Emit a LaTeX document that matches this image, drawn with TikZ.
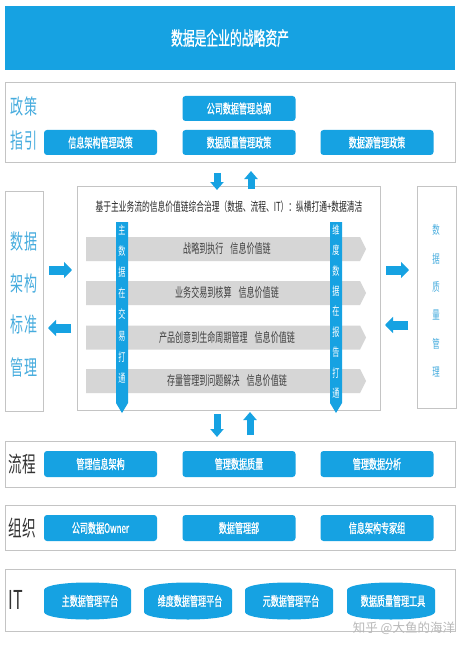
\documentclass[tikz,border=0pt]{standalone}
\usepackage{fontspec}
\setmainfont[FakeStretch=0.62]{Noto Sans CJK SC}
\newfontfamily\cjkn{Noto Sans CJK SC}
\newfontfamily\cjkheavy[FakeStretch=0.62,FakeBold=1]{Noto Sans CJK SC}
\usetikzlibrary{arrows.meta}
\definecolor{bblue}{RGB}{22,162,226}
\definecolor{lblue}{RGB}{70,172,222}
\definecolor{bandgray}{RGB}{214,214,214}
\definecolor{framegray}{RGB}{196,196,196}
\begin{document}
\begin{tikzpicture}[x=1pt,y=-1pt,
  frame/.style={draw=framegray, line width=1pt, fill=white, inner sep=0pt},
  bbox/.style={fill=bblue, rounded corners=3pt, text=white, minimum width=113pt, minimum height=25pt, inner sep=0pt, font=\cjkheavy\fontsize{13}{13}\selectfont},
  lbl/.style={text=lblue, font=\fontsize{21}{22}\selectfont, align=center, inner sep=0pt},
  dlbl/.style={text=black!80, font=\fontsize{22}{22}\selectfont, inner sep=0pt},
  barrow/.style={line width=7pt, draw=bblue, -{Triangle[width=13pt,length=8pt]}},
  harrow/.style={line width=9pt, draw=bblue, -{Triangle[width=16pt,length=8pt]}},
  bandtxt/.style={text=black!75, font=\fontsize{13}{13}\selectfont, inner sep=0pt},
  vtxt/.style={text=white, align=center, inner sep=0pt},
  ittxt/.style={text=white, font=\cjkheavy\fontsize{13}{13}\selectfont, inner sep=0pt}
]
\useasboundingbox (0,0) rectangle (474,647);
\fill[white] (0,0) rectangle (474,647);

% title
\node[fill=bblue, minimum width=450pt, minimum height=64pt, inner sep=0pt, text=white, font=\cjkheavy\fontsize{19}{19}\selectfont] (title) at (230,38) {数据是企业的战略资产};

% policy
\node[frame, minimum width=450pt, minimum height=80pt] (policy) at (230,123) {};
\node[lbl] (lzc) at (24,106) {政策};
\node[lbl] (lzy) at (24,141) {指引};
\node[bbox] (zg) at (239,108.5) {公司数据管理总纲};
\node[bbox] (p1) at (100.5,142.5) {信息架构管理政策};
\node[bbox] (p2) at (239,142.5) {数据质量管理政策};
\node[bbox] (p3) at (377,142.5) {数据源管理政策};

% middle
\node[frame, minimum width=303pt, minimum height=224pt] (mid) at (228.5,298) {};
\node[frame, minimum width=38pt, minimum height=220pt] (lbox) at (24,301) {};
\node[frame, minimum width=39pt, minimum height=222pt] (rbox) at (436.5,297) {};

\node[lbl] (la1) at (24,242) {数据};
\node[lbl] (la2) at (24,284) {架构};
\node[lbl] (la3) at (24,325) {标准};
\node[lbl] (la4) at (24,367) {管理};

\node[text=lblue, font=\fontsize{12}{28.4}\selectfont, align=center, inner sep=0pt] (rq) at (436,301) {数\\据\\质\\量\\管\\理};

\node[text=black!85, font=\fontsize{12.5}{13}\selectfont, inner sep=0pt] (mtitle) at (229,207) {基于主业务流的信息价值链综合治理（数据、流程、IT）：纵横打通+数据清洁};

\foreach \yy in {249,293,337.5,381}{
  \fill[bandgray] (86,\yy-12) -- (360,\yy-12) -- (366,\yy) -- (360,\yy+12) -- (86,\yy+12) -- cycle;
}
\node[bandtxt] (b1) at (227,249) {战略到执行\hspace{7pt}信息价值链};
\node[bandtxt] (b2) at (227,293) {业务交易到核算\hspace{7pt}信息价值链};
\node[bandtxt] (b3) at (227,337.5) {产品创意到生命周期管理\hspace{7pt}信息价值链};
\node[bandtxt] (b4) at (227,381) {存量管理到问题解决\hspace{7pt}信息价值链};

% vertical arrows
\fill[bblue] (116,222) -- (128,222) -- (128,403) -- (122,413) -- (116,403) -- cycle;
\fill[bblue] (330,222) -- (342,222) -- (342,403) -- (336,413) -- (330,403) -- cycle;
\node[vtxt, font=\fontsize{11.5}{21.1}\selectfont] (vl) at (122,304) {主\\数\\据\\在\\交\\易\\打\\通};
\node[vtxt, font=\fontsize{11.5}{20.4}\selectfont] (vr) at (336,311.5) {维\\度\\数\\据\\在\\报\\告\\打\\通};

% arrows policy <-> middle
\coordinate (d1s) at (217,173);
\coordinate (d1e) at (217,190);
\coordinate (u1s) at (251,189);
\coordinate (u1e) at (251,171);
\draw[barrow] (d1s) -- (d1e);
\draw[barrow] (u1s) -- (u1e);

% side arrows
\coordinate (lr1s) at (49,270);
\coordinate (lr1e) at (72,270);
\coordinate (lr2s) at (71,328);
\coordinate (lr2e) at (48,328);
\coordinate (rr1s) at (386,270);
\coordinate (rr1e) at (409,270);
\coordinate (rr2s) at (408,325);
\coordinate (rr2e) at (385,325);
\draw[harrow] (lr1s) -- (lr1e);
\draw[harrow] (lr2s) -- (lr2e);
\draw[harrow] (rr1s) -- (rr1e);
\draw[harrow] (rr2s) -- (rr2e);

% arrows middle <-> process
\coordinate (d2s) at (217,414);
\coordinate (d2e) at (217,437);
\coordinate (u2s) at (250,435);
\coordinate (u2e) at (250,412);
\draw[barrow] (d2s) -- (d2e);
\draw[barrow] (u2s) -- (u2e);

% process
\node[frame, minimum width=450pt, minimum height=46pt] (proc) at (230,464) {};
\node[dlbl] (lproc) at (22,464) {流程};
\node[bbox, minimum height=26pt] (q1) at (100.5,464) {管理信息架构};
\node[bbox, minimum height=26pt] (q2) at (239,464) {管理数据质量};
\node[bbox, minimum height=26pt] (q3) at (377,464) {管理数据分析};

% organisation
\node[frame, minimum width=450pt, minimum height=45pt] (org) at (230,527.5) {};
\node[dlbl] (lorg) at (22,528) {组织};
\node[bbox, minimum height=26pt] (o1) at (100.5,528) {公司数据Owner};
\node[bbox, minimum height=26pt] (o2) at (239,528) {数据管理部};
\node[bbox, minimum height=26pt] (o3) at (377,528) {信息架构专家组};

% IT
\node[frame, minimum width=450pt, minimum height=62pt] (it) at (230,600) {};
\node[text=black!80, font=\fontsize{26}{26}\selectfont, inner sep=0pt] (lit) at (16,600) {IT};
\foreach \xa/\xb in {44/131,144/232,245/333,347/435}{
  \fill[bblue] (\xa,590) .. controls (\xa+1,580) and (\xb-1,580) .. (\xb,590) -- (\xb,612) .. controls (\xb-1,622) and (\xa+1,622) .. (\xa,612) -- cycle;
}
\node[ittxt] (t1) at (90,601) {主数据管理平台};
\node[ittxt] (t2) at (190,601) {维度数据管理平台};
\node[ittxt] (t3) at (291,601) {元数据管理平台};
\node[ittxt] (t4) at (393,601) {数据质量管理工具};

\node[text=black!28, font=\cjkn\fontsize{12.5}{13}\selectfont, inner sep=0pt] (wm) at (404,628) {知乎 @大鱼的海洋};
\end{tikzpicture}
\end{document}
